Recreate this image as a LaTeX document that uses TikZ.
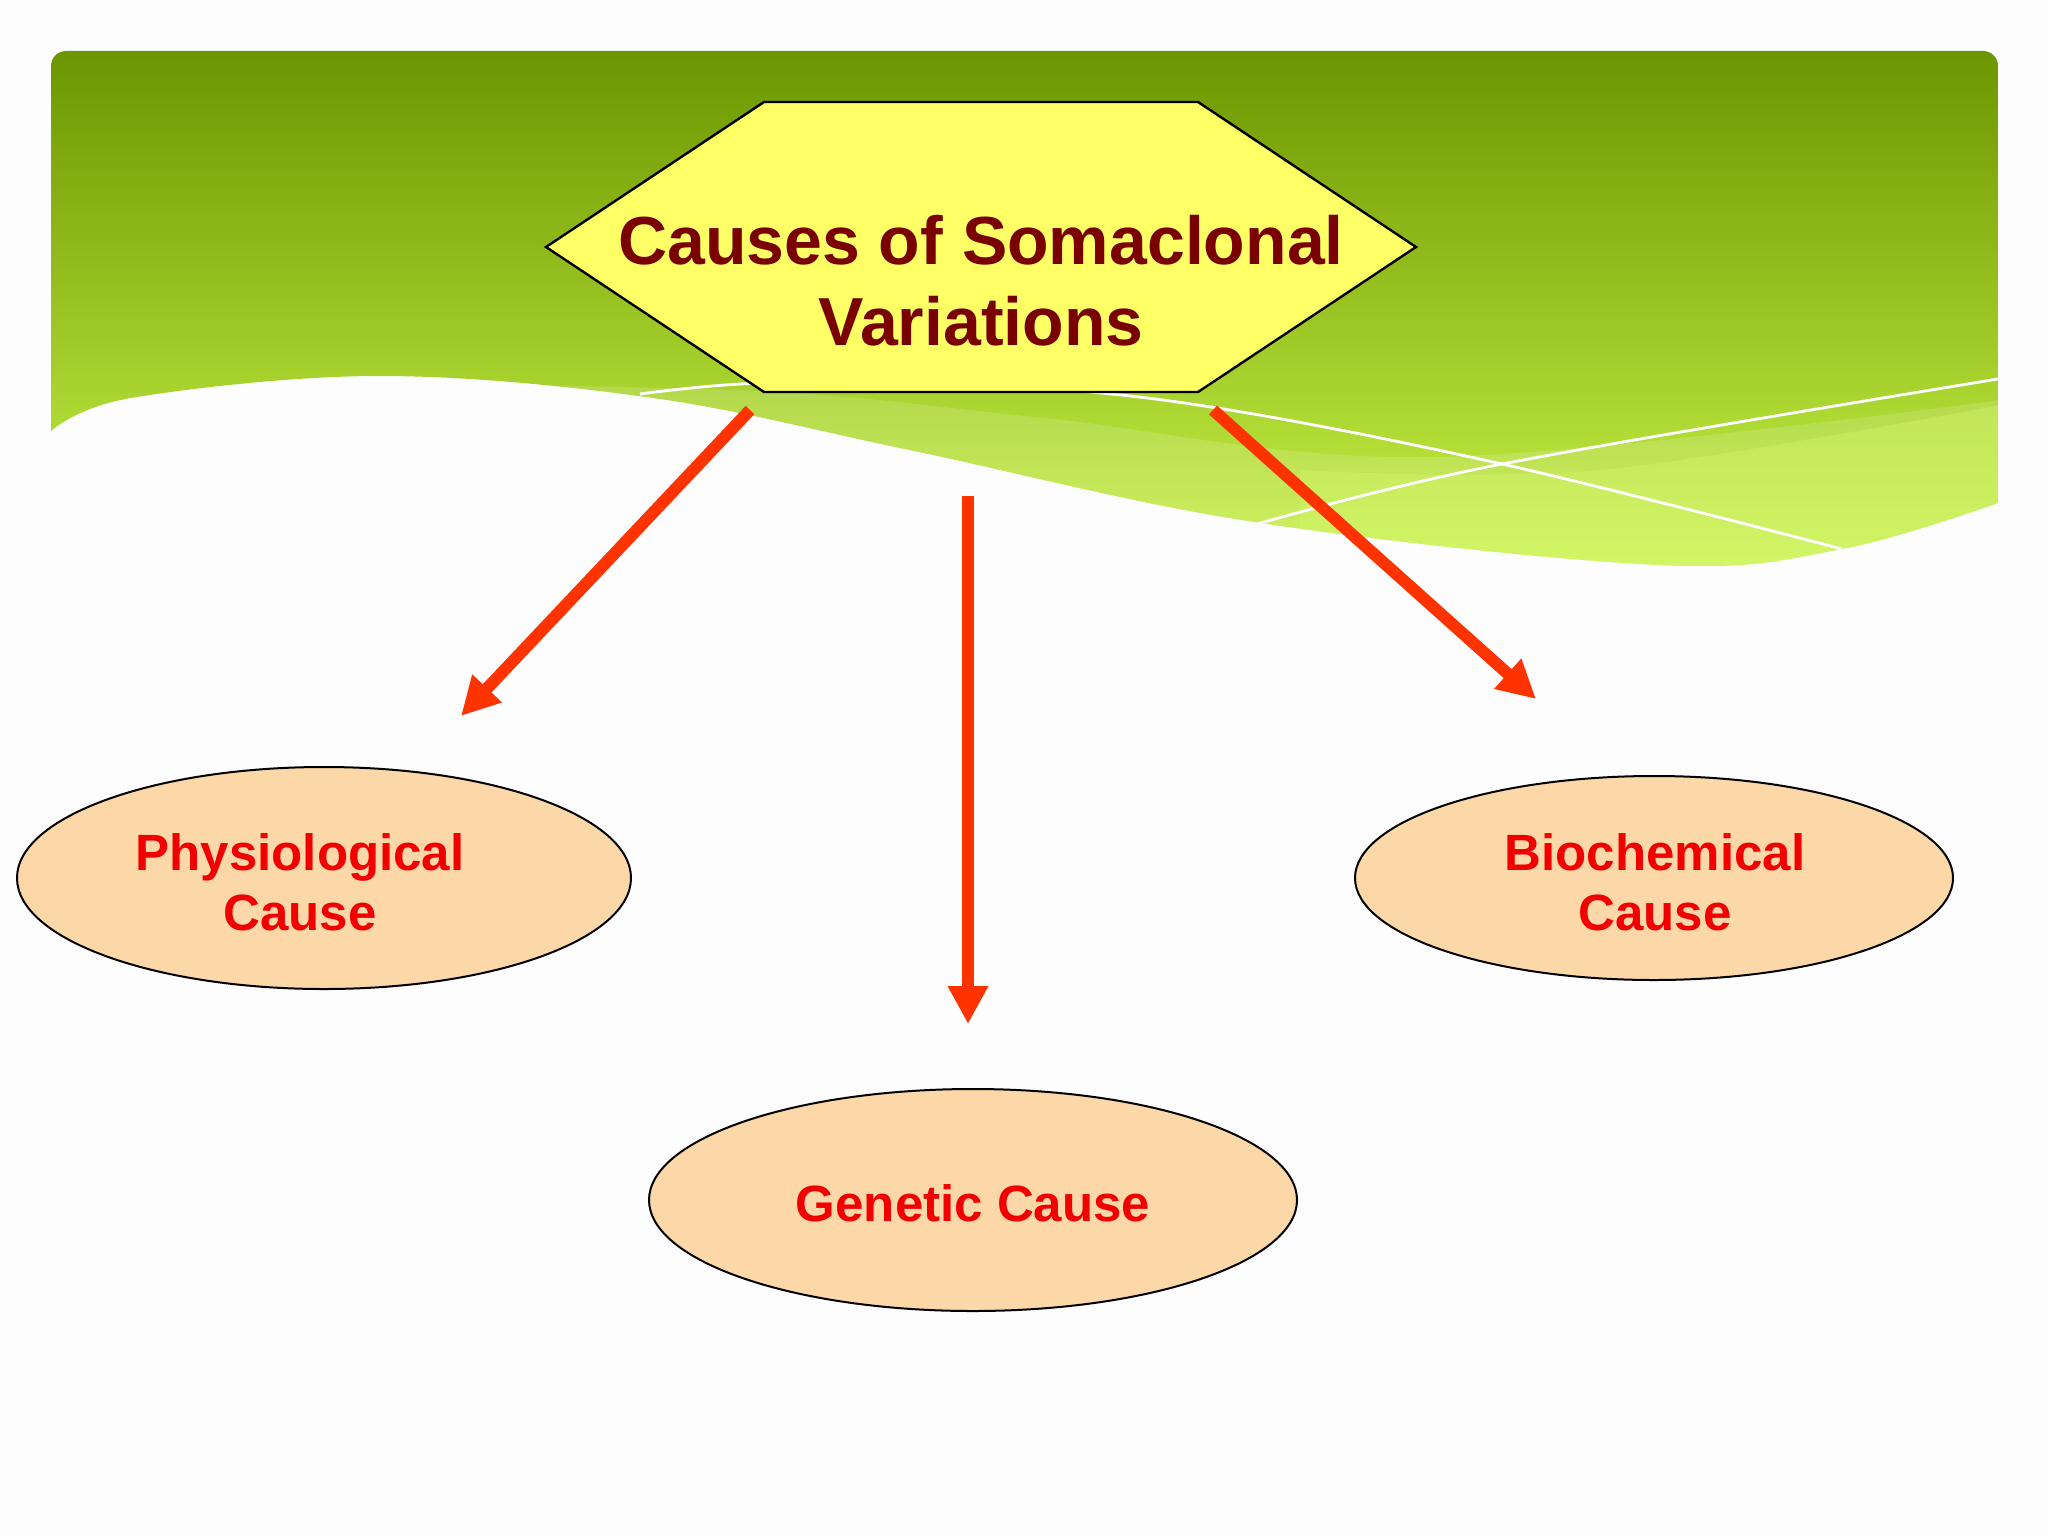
\documentclass[tikz,border=0pt]{standalone}
\usepackage{fontspec}
\setmainfont{Liberation Sans}
\usetikzlibrary{shapes.geometric,arrows.meta}
\definecolor{titlered}{RGB}{122,0,0}
\definecolor{hexfill}{RGB}{255,255,102}
\definecolor{ellfill}{RGB}{252,216,168}
\definecolor{causered}{RGB}{240,0,0}
\definecolor{arrowred}{RGB}{255,51,0}
\definecolor{gtop}{RGB}{108,150,0}
\definecolor{gbot}{RGB}{200,242,70}
\definecolor{bandcol}{RGB}{215,250,110}
\definecolor{pagebg}{RGB}{253,253,253}
\tikzset{
  causeell/.style={ellipse, draw=black, line width=1pt, fill=ellfill, inner sep=0pt},
  causetxt/.style={text=causered, font=\fontsize{25.5}{30}\selectfont\bfseries, align=center, inner sep=0pt},
  titletxt/.style={text=titlered, font=\fontsize{34}{40.5}\selectfont\bfseries, align=center, inner sep=0pt},
  bigarrow/.style={draw=arrowred, line width=6pt, -{Triangle[length=19pt,width=19pt]}},
  wline/.style={draw=white, line width=1.4pt}
}
\begin{document}
\begin{tikzpicture}[x=0.5pt,y=-0.5pt]
\useasboundingbox (0,0) rectangle (2048,1536);
\fill[pagebg] (0,0) rectangle (2048,1536);
% banner
\begin{scope}
\clip[rounded corners=7.5pt] (51,431) -- (51,51) -- (1998,51) -- (1998,300) [sharp corners]
  -- plot[smooth, tension=0.6] coordinates {(1998,503) (1842,549) (1659,565) (1254,522) (914,451) (653,398) (379,376) (131,398) (51,431)} -- cycle;
\shade[top color=gtop, bottom color=gbot] (51,51) rectangle (1998,565);
\fill[white, opacity=0.15] plot[smooth, tension=0.6] coordinates {(470,385) (780,392) (1045,418) (1437,457) (2000,400)} -- (2000,700) -- (470,700) -- cycle;
\fill[bandcol, opacity=0.35] plot[smooth, tension=0.6] coordinates {(1300,470) (1600,470) (2000,405)} -- (2000,700) -- (1300,700) -- cycle;
\draw[wline] plot[smooth, tension=0.6] coordinates {(640,394) (764,383) (980,385) (1198,405) (1502,464) (1842,549)};
\draw[wline] plot[smooth, tension=0.6] coordinates {(1254,525) (1502,464) (1998,379)};
\end{scope}
% hexagon
\draw[line width=1.2pt, fill=hexfill] (546,247) -- (764,102) -- (1198,102) -- (1416,247) -- (1198,392) -- (764,392) -- cycle;
\node[titletxt] (title) at (981,281) {Causes of Somaclonal\\Variations};
% ellipses
\node[causeell, minimum width=307pt, minimum height=111pt] (phys) at (324,878) {};
\node[causetxt] (physt) at (300,882) {Physiological\\Cause};
\node[causeell, minimum width=299pt, minimum height=102pt] (bio) at (1654,878) {};
\node[causetxt] (biot) at (1655,882) {Biochemical\\Cause};
\node[causeell, minimum width=324pt, minimum height=111pt] (gen) at (973,1200) {};
\node[causetxt] (gent) at (973,1203) {Genetic Cause};
% arrows
\coordinate (sL) at (750,410);
\coordinate (tL) at (461,716);
\coordinate (sC) at (968,496);
\coordinate (tC) at (968,1024);
\coordinate (sR) at (1213,410);
\coordinate (tR) at (1536,699);
\draw[bigarrow] (sL) -- (tL);
\draw[bigarrow] (sC) -- (tC);
\draw[bigarrow] (sR) -- (tR);
\end{tikzpicture}
\end{document}
